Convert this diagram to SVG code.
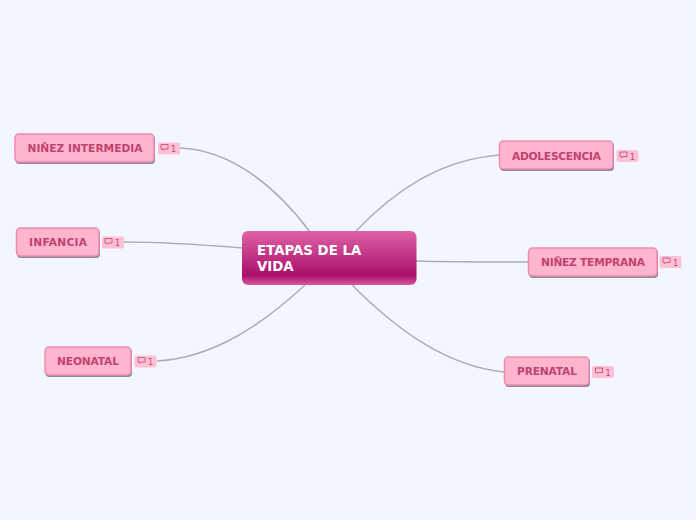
<svg xmlns="http://www.w3.org/2000/svg" width="696" height="520" viewBox="0 0 696 520">
<style>
.c{fill:none;stroke:#abaeb6;stroke-width:1.5}
.n{fill:#ffb5ce;stroke:#f08aae;stroke-width:1.5}
.s{fill:#66666e;opacity:.75;filter:url(#blur)}
.t{font:bold 10.67px "DejaVu Sans",sans-serif;fill:#c0426f;text-anchor:middle}
.b{fill:#ffc0d5}
.bt{font:8px "DejaVu Sans",sans-serif;fill:#c0426f}
.i{fill:none;stroke:#c0426f;stroke-width:.8}
.m{font:bold 13.33px "DejaVu Sans",sans-serif;fill:#fff}
</style>
<defs>
<filter id="blur" x="-5%" y="-10%" width="110%" height="125%"><feGaussianBlur stdDeviation="0.7"/></filter>
<linearGradient id="g" x1="0" y1="0" x2="0" y2="1">
<stop offset="0" stop-color="#e062a6"/>
<stop offset=".82" stop-color="#a8116a"/>
<stop offset="1" stop-color="#d8589f"/>
</linearGradient>
<g id="ic"><path class="i" d="M0.500 0.500h7v4.500h-4l-1.200 1.300v-1.300h-1.800z"/></g>
</defs>
<rect width="696" height="520" fill="#f3f6ff"/>
<g id="connectors">
<path class="c" d="M180 148C230 150 275 185 310 232"/>
<path class="c" d="M124 242C165 242 205 245 243 248"/>
<path class="c" d="M157 361C215 358 265 322 305 285"/>
<path class="c" d="M499 155C440 160 395 190 355 232"/>
<path class="c" d="M416 261C455 262 490 262 528 262"/>
<path class="c" d="M504 372C445 366 395 328 352 285"/>
</g>
<g id="center">
<rect x="242" y="231" width="174.500" height="54" rx="6" fill="url(#g)"/>
<text class="m" x="257" y="255">ETAPAS DE LA</text>
<text class="m" x="257" y="271">VIDA</text>
</g>
<g id="n1">
<rect class="s" x="15.500" y="135.500" width="139.500" height="28.500" rx="4"/>
<rect class="n" x="15" y="134" width="139" height="28" rx="4"/>
<text class="t" x="85" y="152" textLength="115">NIÑEZ INTERMEDIA</text>
<rect class="b" x="158" y="142.500" width="22" height="12" rx="2"/>
<use href="#ic" x="160.500" y="144"/><text class="bt" x="171" y="151.500">1</text>
</g>
<g id="n2">
<rect class="s" x="17" y="229.500" width="83" height="28.500" rx="4"/>
<rect class="n" x="16.500" y="228" width="82.500" height="28" rx="4"/>
<text class="t" x="58" y="246" textLength="58">INFANCIA</text>
<rect class="b" x="102" y="236.500" width="22" height="12" rx="2"/>
<use href="#ic" x="104.500" y="238"/><text class="bt" x="115" y="246">1</text>
</g>
<g id="n3">
<rect class="s" x="45.500" y="348.500" width="86.500" height="28.500" rx="4"/>
<rect class="n" x="45" y="347" width="86" height="28" rx="4"/>
<text class="t" x="88" y="365" textLength="62">NEONATAL</text>
<rect class="b" x="134.500" y="355.500" width="22" height="12" rx="2"/>
<use href="#ic" x="137.500" y="357"/><text class="bt" x="148" y="365">1</text>
</g>
<g id="n4">
<rect class="s" x="500" y="142.500" width="114" height="28.500" rx="4"/>
<rect class="n" x="499.500" y="141" width="113.500" height="28" rx="4"/>
<text class="t" x="556.500" y="160" textLength="89">ADOLESCENCIA</text>
<rect class="b" x="616.500" y="150" width="22" height="12" rx="2"/>
<use href="#ic" x="619.500" y="151.500"/><text class="bt" x="630" y="159.500">1</text>
</g>
<g id="n5">
<rect class="s" x="529" y="249.500" width="129" height="28.500" rx="4"/>
<rect class="n" x="528.500" y="248" width="128.500" height="28" rx="4"/>
<text class="t" x="593" y="266" textLength="104">NIÑEZ TEMPRANA</text>
<rect class="b" x="659.500" y="256" width="22" height="12" rx="2"/>
<use href="#ic" x="662.500" y="257.500"/><text class="bt" x="673" y="265.500">1</text>
</g>
<g id="n6">
<rect class="s" x="505" y="358.500" width="85" height="28.500" rx="4"/>
<rect class="n" x="504.500" y="357" width="84.500" height="28" rx="4"/>
<text class="t" x="547" y="375" textLength="60">PRENATAL</text>
<rect class="b" x="592" y="366" width="22" height="12" rx="2"/>
<use href="#ic" x="595" y="367.500"/><text class="bt" x="605.500" y="375.500">1</text>
</g>
</svg>
